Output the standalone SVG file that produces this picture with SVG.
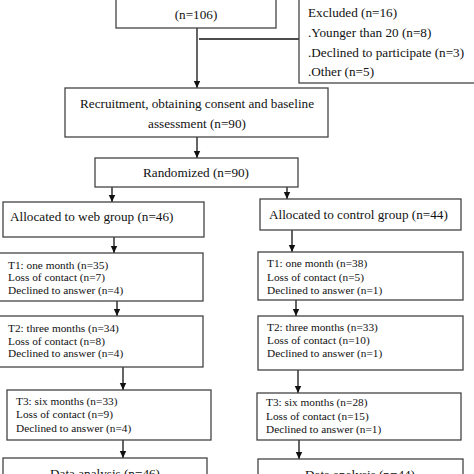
<svg xmlns="http://www.w3.org/2000/svg" width="474" height="474" viewBox="0 0 474 474">
<defs>
<marker id="ah" markerWidth="8" markerHeight="8" refX="7" refY="4" orient="auto" markerUnits="userSpaceOnUse">
<path d="M0,0.8 L7,4 L0,7.2 Z" fill="#111"/>
</marker>
<style>
.box{fill:#fff;stroke:#444;stroke-width:1.3}
.t{font-family:"Liberation Serif","Times New Roman",serif;font-size:13.2px;fill:#111}
.s{font-size:11.3px}
.m{text-anchor:middle}
.c{stroke:#111;stroke-width:1.3;fill:none}
</style>
</defs>
<rect width="474" height="474" fill="#fff"/>
<g id="connectors">
<line class="c" x1="197" y1="28" x2="197" y2="88" marker-end="url(#ah)"/>
<line class="c" x1="199" y1="39" x2="299" y2="39"/>
<line class="c" x1="197" y1="137" x2="197" y2="158" marker-end="url(#ah)"/>
<line class="c" x1="112" y1="187" x2="112" y2="202" marker-end="url(#ah)"/>
<line class="c" x1="287" y1="187" x2="287" y2="199" marker-end="url(#ah)"/>
<line class="c" x1="114" y1="237" x2="114" y2="253" marker-end="url(#ah)"/>
<line class="c" x1="292" y1="230" x2="292" y2="252" marker-end="url(#ah)"/>
<line class="c" x1="117" y1="301" x2="117" y2="316" marker-end="url(#ah)"/>
<line class="c" x1="296" y1="300" x2="296" y2="316" marker-end="url(#ah)"/>
<line class="c" x1="123" y1="367" x2="123" y2="390" marker-end="url(#ah)"/>
<line class="c" x1="298" y1="370" x2="298" y2="393" marker-end="url(#ah)"/>
<line class="c" x1="123" y1="440" x2="123" y2="458" marker-end="url(#ah)"/>
<line class="c" x1="299" y1="440" x2="299" y2="459" marker-end="url(#ah)"/>
</g>
<g id="eligible">
<rect class="box" x="116" y="-20" width="160" height="48"/>
<text class="t m" x="196" y="19">(n=106)</text>
</g>
<g id="excluded">
<rect class="box" x="299" y="-20" width="190" height="103"/>
<text class="t" x="308" y="17">Excluded (n=16)</text>
<text class="t" x="308" y="37">.Younger than 20 (n=8)</text>
<text class="t" x="308" y="57">.Declined to participate (n=3)</text>
<text class="t" x="308" y="76">.Other (n=5)</text>
</g>
<g id="recruitment">
<rect class="box" x="65" y="88" width="263" height="49"/>
<text class="t m" x="197" y="108">Recruitment, obtaining consent and baseline</text>
<text class="t m" x="197" y="128">assessment (n=90)</text>
</g>
<g id="randomized">
<rect class="box" x="95" y="158" width="203" height="29"/>
<text class="t m" x="196" y="177">Randomized (n=90)</text>
</g>
<g id="alloc-web">
<rect class="box" x="3" y="202" width="201" height="35"/>
<text class="t" x="10" y="221">Allocated to web group (n=46)</text>
</g>
<g id="alloc-control">
<rect class="box" x="260" y="199" width="201" height="31"/>
<text class="t" x="269" y="219">Allocated to control group (n=44)</text>
</g>
<g id="web-t1">
<rect class="box" x="-2" y="253" width="205" height="48"/>
<text class="t s" x="8" y="269">T1: one month (n=35)</text>
<text class="t s" x="8" y="281">Loss of contact (n=7)</text>
<text class="t s" x="8" y="294">Declined to answer (n=4)</text>
</g>
<g id="control-t1">
<rect class="box" x="258" y="252" width="205" height="48"/>
<text class="t s" x="267" y="267">T1: one month (n=38)</text>
<text class="t s" x="267" y="281">Loss of contact (n=5)</text>
<text class="t s" x="267" y="294">Declined to answer (n=1)</text>
</g>
<g id="web-t2">
<rect class="box" x="-2" y="316" width="205" height="51"/>
<text class="t s" x="8" y="332">T2: three months (n=34)</text>
<text class="t s" x="8" y="345">Loss of contact (n=8)</text>
<text class="t s" x="8" y="357">Declined to answer (n=4)</text>
</g>
<g id="control-t2">
<rect class="box" x="258" y="316" width="205" height="54"/>
<text class="t s" x="267" y="331">T2: three months (n=33)</text>
<text class="t s" x="267" y="344">Loss of contact (n=10)</text>
<text class="t s" x="267" y="357">Declined to answer (n=1)</text>
</g>
<g id="web-t3">
<rect class="box" x="7" y="390" width="204" height="50"/>
<text class="t s" x="16" y="404.5">T3: six months (n=33)</text>
<text class="t s" x="16" y="418">Loss of contact (n=9)</text>
<text class="t s" x="16" y="431.5">Declined to answer (n=4)</text>
</g>
<g id="control-t3">
<rect class="box" x="257" y="393" width="204" height="47"/>
<text class="t s" x="266" y="405.5">T3: six months (n=28)</text>
<text class="t s" x="266" y="420">Loss of contact (n=15)</text>
<text class="t s" x="266" y="433">Declined to answer (n=1)</text>
</g>
<g id="web-analysis">
<rect class="box" x="3" y="458" width="204" height="40"/>
<text class="t m" x="105" y="478">Data analysis (n=46)</text>
</g>
<g id="control-analysis">
<rect class="box" x="258" y="459" width="205" height="40"/>
<text class="t m" x="360" y="479">Data analysis (n=44)</text>
</g>
</svg>
